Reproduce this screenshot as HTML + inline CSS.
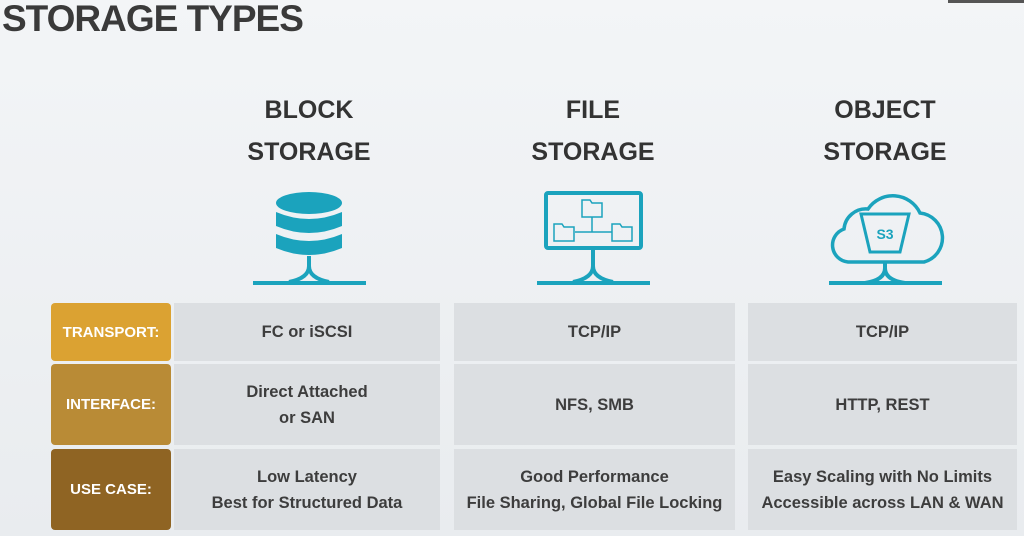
<!DOCTYPE html>
<html><head><style>
body{margin:0;width:1024px;height:536px;overflow:hidden;background:linear-gradient(#f3f5f7,#e9ecef);font-family:"Liberation Sans",sans-serif;position:relative}
.a{position:absolute}
.t{left:2px;top:-2px;font-size:37px;font-weight:bold;color:#3a3a3a;letter-spacing:-1px}
.h{font-size:25px;font-weight:bold;color:#333;text-align:center;line-height:42px;width:260px}
.l{color:#fff;font-weight:bold;font-size:15px;display:flex;align-items:center;justify-content:center;border-radius:4px;left:51px;width:120px}
.c{background:#dcdfe2;color:#3d3d3d;font-weight:bold;font-size:16.5px;display:flex;align-items:center;justify-content:center;text-align:center;line-height:26px}
</style></head><body>
<div class="a" style="left:948px;top:0;width:76px;height:3px;background:#555"></div>
<div class="a t">STORAGE TYPES</div>
<div class="a h" style="left:179px;top:89px">BLOCK<br>STORAGE</div>
<div class="a h" style="left:463px;top:89px">FILE<br>STORAGE</div>
<div class="a h" style="left:755px;top:89px">OBJECT<br>STORAGE</div>
<svg class="a" style="left:0;top:0" width="1024" height="300" fill="none" stroke="#1ba3bd" stroke-width="4">
<g fill="#1ba3bd" stroke="none">
<ellipse cx="309" cy="203" rx="33" ry="11"/>
<path d="M276 212 q33 14 66 0 v14 q-33 14 -66 0z"/>
<path d="M276 234 q33 14 66 0 v14 q-33 14 -66 0z"/>
</g>
<path d="M309 256 v10 q0 12 -20 16 M309 266 q0 12 20 16 M253 283 h113"/>
<rect x="546" y="193" width="95" height="55" rx="2"/>
<path d="M593 248 v18 q0 12 -20 16 M593 266 q0 12 20 16 M537 283 h113"/>
<g stroke-width="1.5"><path d="M582 200 h8 l2 3 h10 v14 h-20z M554 224 h8 l2 3 h10 v14 h-20z M612 224 h8 l2 3 h10 v14 h-20z M592 217 v15 M575 232 h37"/></g>
<path d="M848 262 a17 17 0 0 1 -4 -33 a22 22 0 0 1 24 -20 a30 30 0 0 1 52 4 a25 25 0 0 1 4 49 z" stroke-width="3.5"/>
<path d="M861 214 h48 l-9 38 h-30z" stroke-width="3"/>
<text x="885" y="239" fill="#1ba3bd" stroke="none" font-size="14" font-weight="bold" text-anchor="middle" font-family="Liberation Sans">S3</text>
<path d="M885 263 v5 q0 12 -20 15 M885 268 q0 12 20 15 M829 283 h113"/>
</svg>
<div class="a l" style="top:303px;height:58px;background:#dba232">TRANSPORT:</div>
<div class="a l" style="top:364px;height:81px;background:#b98b36">INTERFACE:</div>
<div class="a l" style="top:449px;height:81px;background:#8f6423">USE CASE:</div>
<div class="a c" style="left:174px;top:303px;width:266px;height:58px">FC or iSCSI</div>
<div class="a c" style="left:174px;top:364px;width:266px;height:81px">Direct Attached<br>or SAN</div>
<div class="a c" style="left:174px;top:449px;width:266px;height:81px">Low Latency<br>Best for Structured Data</div>
<div class="a c" style="left:454px;top:303px;width:281px;height:58px">TCP/IP</div>
<div class="a c" style="left:454px;top:364px;width:281px;height:81px">NFS, SMB</div>
<div class="a c" style="left:454px;top:449px;width:281px;height:81px">Good Performance<br>File Sharing, Global File Locking</div>
<div class="a c" style="left:748px;top:303px;width:269px;height:58px">TCP/IP</div>
<div class="a c" style="left:748px;top:364px;width:269px;height:81px">HTTP, REST</div>
<div class="a c" style="left:748px;top:449px;width:269px;height:81px">Easy Scaling with No Limits<br>Accessible across LAN &amp; WAN</div>
</body></html>
